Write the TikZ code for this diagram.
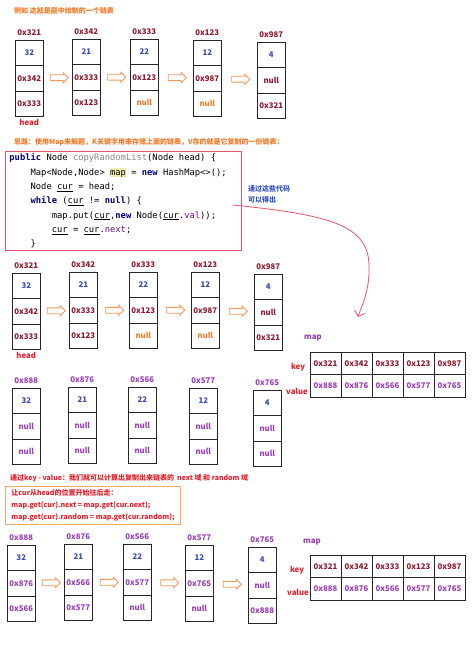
\documentclass[tikz,border=0pt]{standalone}
\usepackage{fontspec}
\setmainfont{Noto Sans CJK SC}
\newfontfamily\codefont{DejaVu Sans Mono}[WordSpace={1,0,0}]
\usetikzlibrary{arrows.meta,calc,positioning,shapes.arrows}
\definecolor{addrred}{HTML}{8E1B2E}
\definecolor{valblue}{HTML}{3B4BB5}
\definecolor{copyviolet}{HTML}{9A3DB8}
\definecolor{noteorange}{HTML}{F47A28}
\definecolor{alertred}{HTML}{E8202A}
\definecolor{codered}{HTML}{E5566B}
\definecolor{boxorange}{HTML}{F5A860}
\definecolor{arroworange}{HTML}{F29A5C}
\definecolor{kwnavy}{HTML}{000080}
\definecolor{fieldpurple}{HTML}{660E7A}
\definecolor{methodgrey}{HTML}{8A8A8A}
\definecolor{mapyellow}{HTML}{F5EBB5}
\definecolor{hintblue}{HTML}{3553C8}
\newcommand{\codekw}[1]{\textcolor{kwnavy}{\bfseries #1}}
\newcommand{\codefld}[1]{\textcolor{fieldpurple}{#1}}
\newcommand{\codehl}[1]{{\setlength{\fboxsep}{0pt}\colorbox{mapyellow}{\rule[-2pt]{0pt}{9pt}#1}}}
\tikzset{cell/.style={draw=black!85,line width=.8pt,outer sep=0pt,minimum width=28.5pt,minimum height=25.5pt,inner sep=0pt,font=\fontsize{7.8}{8}\selectfont\bfseries},addrlabel/.style={font=\fontsize{7.8}{8}\selectfont\bfseries,inner sep=0pt},hollowarrow/.style={single arrow,draw=arroworange,fill=white,line width=.8pt,minimum height=18pt,inner sep=0pt,inner ysep=2.5pt,single arrow head extend=2pt},mapcell/.style={draw=black!85,line width=.8pt,outer sep=0pt,minimum width=31pt,minimum height=22.5pt,inner sep=0pt,font=\fontsize{7.8}{8}\selectfont\bfseries},note/.style={font=\fontsize{7}{8}\selectfont\bfseries,inner sep=0pt,anchor=west}}

\begin{document}
\begin{tikzpicture}[x=1pt,y=-1pt]
\fill[white] (0,0) rectangle (474,668);
\useasboundingbox (0,0) rectangle (474,668);
% original list, as drawn in the problem
\node[note,text=noteorange] (titleA) at (14,11) {例如 这就是题中绘制的一个链表};
\foreach \i/\x/\y/\ad/\va/\vb/\vc in {1/15/40/0x321/32/0x342/0x333,2/72/39/0x342/21/0x333/0x123,3/130/39/0x333/22/0x123/{\color{noteorange}null},4/193/40/0x123/12/0x987/{\color{noteorange}null},5/257/42/0x987/4/null/0x321}{
\node[cell,anchor=north west,text=valblue] (a\i v) at (\x,\y) {\va};
\node[cell,below=0pt of a\i v,text=addrred] (a\i n) {\vb};
\node[cell,below=0pt of a\i n,text=addrred] (a\i r) {\vc};
\node[addrlabel,text=addrred,above=4.5pt of a\i v] (a\i a) {\ad};}
\foreach \i/\j in {1/2,2/3,3/4,4/5} \node[hollowarrow] (a\i to) at ($(a\i n.east)!.5!(a\j n.west)$) {};
\node[addrlabel,text=alertred,below=3pt of a1r] (headA) {head};
% idea + code
\node[note,text=noteorange] (titleB) at (14,142) {思路：使用Map来解题，K关键字用来存储上面的链表，V存的就是它复制的一份链表：};
\node[draw=codered,line width=.9pt,anchor=north west,minimum height=99pt,inner xsep=4pt,inner ysep=1.5pt,text width=228pt,align=flush left,font=\codefont\fontsize{8.8}{14.33}\selectfont] (code) at (5,151) {\spaceskip=0.602em\xspaceskip=0.602em\relax
\codekw{public} Node \textcolor{methodgrey}{copyRandomList}(Node head) \{\\
\phantom{xxxx}Map<Node,Node> \codehl{map} = \codekw{new} HashMap<>();\\
\phantom{xxxx}Node \underline{cur} = head;\\
\phantom{xxxx}\codekw{while} (\underline{cur} != \codekw{null}) \{\\
\phantom{xxxxxxxx}map.put(\underline{cur},\codekw{new} Node(\underline{cur}.\codefld{val}));\\
\phantom{xxxxxxxx}\underline{cur} = \underline{cur}.\codefld{next};\\
\phantom{xxxx}\}};
\node[font=\fontsize{7}{11}\selectfont\bfseries,text=hintblue,align=left,inner sep=0pt,anchor=north west] (hint) at (248,185) {通过这些代码\\可以得出};
\coordinate (curveS) at (233,205);
\coordinate (curveE) at (358,317);
\draw[codered,line width=.8pt,-{Straight Barb[length=5pt,width=11pt]}] (curveS) .. controls (330,215) and (368,225) .. (369,265) .. controls (370,290) and (362,305) .. (curveE);
% same list again
\foreach \i/\x/\y/\ad/\va/\vb/\vc in {1/12/273/0x321/32/0x342/0x333,2/69/272/0x342/21/0x333/0x123,3/129/272/0x333/22/0x123/{\color{noteorange}null},4/191/272/0x123/12/0x987/{\color{noteorange}null},5/254/274/0x987/4/null/0x321}{
\node[cell,anchor=north west,text=valblue] (b\i v) at (\x,\y) {\va};
\node[cell,below=0pt of b\i v,text=addrred] (b\i n) {\vb};
\node[cell,below=0pt of b\i n,text=addrred] (b\i r) {\vc};
\node[addrlabel,text=addrred,above=4.5pt of b\i v] (b\i a) {\ad};}
\foreach \i/\j in {1/2,2/3,3/4,4/5} \node[hollowarrow] (b\i to) at ($(b\i n.east)!.5!(b\j n.west)$) {};
\node[addrlabel,text=alertred,below=3pt of b1r] (headB) {head};
% copies made by new Node(cur.val)
\foreach \i/\x/\y/\ad/\va in {1/12/388/0x888/32,2/68/387/0x876/21,3/128/387/0x566/22,4/189/388/0x577/12,5/253/390/0x765/4}{
\node[cell,anchor=north west,text=valblue] (c\i v) at (\x,\y) {\va};
\node[cell,below=0pt of c\i v,text=copyviolet] (c\i n) {null};
\node[cell,below=0pt of c\i n,text=copyviolet] (c\i r) {null};
\node[addrlabel,text=copyviolet,above=4.5pt of c\i v] (c\i a) {\ad};}
% map table 1
\node[addrlabel,text=copyviolet] (mapA) at (313,338) {map};
\foreach \i/\k/\v in {1/0x321/0x888,2/0x342/0x876,3/0x333/0x566,4/0x123/0x577,5/0x987/0x765}{
\node[mapcell,anchor=north west,text=addrred] (mk\i) at ({310+31*(\i-1)},352) {\k};
\node[mapcell,below=0pt of mk\i,text=copyviolet] (mv\i) {\v};}
\node[addrlabel,text=alertred] (keyA) at (298,367) {key};
\node[addrlabel,text=alertred] (valA) at (297,391) {value};
% next / random
\node[note,text=alertred] (titleC) at (10,478) {通过key - value：我们就可以计算出复制出来链表的\ \ next 域 和 random 域};
\node[draw=boxorange,line width=.9pt,anchor=north west,minimum width=173pt,minimum height=38pt,inner xsep=6pt,inner ysep=2pt,align=left,text=alertred,font=\fontsize{7}{12}\selectfont\bfseries] (rule) at (5,486) {让cur从head的位置开始往后走：\\map.get(cur).next = map.get(cur.next);\\map.get(cur).random = map.get(cur.random);};
\foreach \i/\x/\y/\ad/\va/\vb/\vc in {1/7/545/0x888/32/0x876/0x566,2/64/544/0x876/21/0x566/0x577,3/123/544/0x566/22/0x577/null,4/185/545/0x577/12/0x765/null,5/248/547/0x765/4/null/0x888}{
\node[cell,anchor=north west,text=valblue] (d\i v) at (\x,\y) {\va};
\node[cell,below=0pt of d\i v,text=copyviolet] (d\i n) {\vb};
\node[cell,below=0pt of d\i n,text=copyviolet] (d\i r) {\vc};
\node[addrlabel,text=copyviolet,above=4.5pt of d\i v] (d\i a) {\ad};}
\foreach \i/\j in {1/2,2/3,3/4,4/5} \node[hollowarrow] (d\i to) at ($(d\i n.east)!.5!(d\j n.west)$) {};
% map table 2
\node[addrlabel,text=copyviolet] (mapB) at (312,542) {map};
\foreach \i/\k/\v in {1/0x321/0x888,2/0x342/0x876,3/0x333/0x566,4/0x123/0x577,5/0x987/0x765}{
\node[mapcell,anchor=north west,text=addrred] (nk\i) at ({310+31*(\i-1)},555) {\k};
\node[mapcell,below=0pt of nk\i,text=copyviolet] (nv\i) {\v};}
\node[addrlabel,text=alertred] (keyB) at (297,570) {key};
\node[addrlabel,text=alertred] (valB) at (298,592) {value};
\end{tikzpicture}
\end{document}
